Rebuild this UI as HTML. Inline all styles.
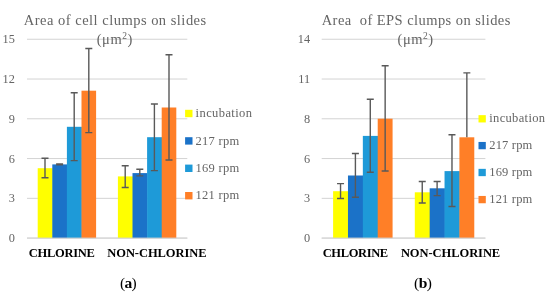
<!DOCTYPE html>
<html><head><meta charset="utf-8"><title>Area of clumps on slides</title>
<style>
html,body{margin:0;padding:0;background:#fff;}
svg{display:block;font-family:"Liberation Serif","DejaVu Serif",serif;}
</style></head><body>
<svg width="550" height="297" viewBox="0 0 550 297">
<rect width="550" height="297" fill="#fff"/>
<line x1="27" x2="187.3" y1="39.25" y2="39.25" stroke="#d3d3d3" stroke-width="1"/>
<text x="14.9" y="43.25" font-size="12.3" fill="#656565" text-anchor="end">15</text>
<line x1="27" x2="187.3" y1="79.02" y2="79.02" stroke="#d3d3d3" stroke-width="1"/>
<text x="14.9" y="83.02" font-size="12.3" fill="#656565" text-anchor="end">12</text>
<line x1="27" x2="187.3" y1="118.79" y2="118.79" stroke="#d3d3d3" stroke-width="1"/>
<text x="14.9" y="122.79" font-size="12.3" fill="#656565" text-anchor="end">9</text>
<line x1="27" x2="187.3" y1="158.56" y2="158.56" stroke="#d3d3d3" stroke-width="1"/>
<text x="14.9" y="162.56" font-size="12.3" fill="#656565" text-anchor="end">6</text>
<line x1="27" x2="187.3" y1="198.33" y2="198.33" stroke="#d3d3d3" stroke-width="1"/>
<text x="14.9" y="202.33" font-size="12.3" fill="#656565" text-anchor="end">3</text>
<line x1="27" x2="187.3" y1="238.10" y2="238.10" stroke="#d3d3d3" stroke-width="1"/>
<text x="14.9" y="242.1" font-size="12.3" fill="#656565" text-anchor="end">0</text>
<rect x="37.70" y="168.20" width="15.00" height="69.90" fill="#ffff00"/>
<rect x="52.30" y="164.40" width="15.00" height="73.70" fill="#1b72c8"/>
<rect x="66.90" y="126.80" width="15.00" height="111.30" fill="#1e9ad8"/>
<rect x="81.50" y="90.70" width="14.60" height="147.40" fill="#ff7f27"/>
<rect x="117.90" y="176.40" width="15.00" height="61.70" fill="#ffff00"/>
<rect x="132.50" y="173.10" width="15.00" height="65.00" fill="#1b72c8"/>
<rect x="147.10" y="137.20" width="15.00" height="100.90" fill="#1e9ad8"/>
<rect x="161.70" y="107.50" width="14.60" height="130.60" fill="#ff7f27"/>
<line x1="27" x2="187.3" y1="238.10" y2="238.10" stroke="#d3d3d3" stroke-width="1"/>
<path d="M45.00 158.30V177.80M41.50 158.30H48.50M41.50 177.80H48.50" stroke="#595959" stroke-width="1.4" fill="none"/>
<path d="M59.60 163.90V164.90M56.10 163.90H63.10M56.10 164.90H63.10" stroke="#595959" stroke-width="1.4" fill="none"/>
<path d="M74.20 92.70V160.60M70.70 92.70H77.70M70.70 160.60H77.70" stroke="#595959" stroke-width="1.4" fill="none"/>
<path d="M88.80 48.50V132.60M85.30 48.50H92.30M85.30 132.60H92.30" stroke="#595959" stroke-width="1.4" fill="none"/>
<path d="M125.20 165.80V187.50M121.70 165.80H128.70M121.70 187.50H128.70" stroke="#595959" stroke-width="1.4" fill="none"/>
<path d="M139.80 169.30V175.90M136.30 169.30H143.30M136.30 175.90H143.30" stroke="#595959" stroke-width="1.4" fill="none"/>
<path d="M154.40 104.00V170.60M150.90 104.00H157.90M150.90 170.60H157.90" stroke="#595959" stroke-width="1.4" fill="none"/>
<path d="M169.00 54.70V160.00M165.50 54.70H172.50M165.50 160.00H172.50" stroke="#595959" stroke-width="1.4" fill="none"/>
<text x="23.8" y="25.0" font-size="14.5" fill="#656565" textLength="182.4" lengthAdjust="spacing">Area of cell clumps on slides</text>
<text x="96.7" y="43.7" font-size="14.5" fill="#656565" textLength="35.6" lengthAdjust="spacing">(μm<tspan font-size="9.5" dy="-5">2</tspan><tspan dy="5">)</tspan></text>
<rect x="185.1" y="109.80" width="7.4" height="7.4" fill="#ffff00"/>
<text x="195.6" y="117.1" font-size="12.5" fill="#656565" textLength="56.4" lengthAdjust="spacing">incubation</text>
<rect x="185.1" y="137.20" width="7.4" height="7.4" fill="#1b72c8"/>
<text x="195.6" y="144.5" font-size="12.5" fill="#656565" textLength="43.6" lengthAdjust="spacing">217 rpm</text>
<rect x="185.1" y="164.60" width="7.4" height="7.4" fill="#1e9ad8"/>
<text x="195.6" y="171.9" font-size="12.5" fill="#656565" textLength="43.6" lengthAdjust="spacing">169 rpm</text>
<rect x="185.1" y="192.00" width="7.4" height="7.4" fill="#ff7f27"/>
<text x="195.6" y="199.3" font-size="12.5" fill="#656565" textLength="43.6" lengthAdjust="spacing">121 rpm</text>
<text x="28.7" y="256.8" font-size="12.5" fill="#000" textLength="66.2" lengthAdjust="spacing" font-weight="bold">CHLORINE</text>
<text x="107.3" y="256.8" font-size="12.5" fill="#000" textLength="99.2" lengthAdjust="spacing" font-weight="bold">NON-CHLORINE</text>
<text x="119.9" y="287.7" font-size="15.5" fill="#000" textLength="16.8" lengthAdjust="spacing">(<tspan font-weight="bold">a</tspan>)</text>
<line x1="321.7" x2="485.4" y1="39.25" y2="39.25" stroke="#d3d3d3" stroke-width="1"/>
<text x="310.1" y="43.25" font-size="12.3" fill="#656565" text-anchor="end">14</text>
<line x1="321.7" x2="485.4" y1="79.02" y2="79.02" stroke="#d3d3d3" stroke-width="1"/>
<text x="310.1" y="83.02" font-size="12.3" fill="#656565" text-anchor="end">11</text>
<line x1="321.7" x2="485.4" y1="118.79" y2="118.79" stroke="#d3d3d3" stroke-width="1"/>
<text x="310.1" y="122.79" font-size="12.3" fill="#656565" text-anchor="end">8</text>
<line x1="321.7" x2="485.4" y1="158.56" y2="158.56" stroke="#d3d3d3" stroke-width="1"/>
<text x="310.1" y="162.56" font-size="12.3" fill="#656565" text-anchor="end">6</text>
<line x1="321.7" x2="485.4" y1="198.33" y2="198.33" stroke="#d3d3d3" stroke-width="1"/>
<text x="310.1" y="202.33" font-size="12.3" fill="#656565" text-anchor="end">3</text>
<line x1="321.7" x2="485.4" y1="238.10" y2="238.10" stroke="#d3d3d3" stroke-width="1"/>
<text x="310.1" y="242.1" font-size="12.3" fill="#656565" text-anchor="end">0</text>
<rect x="333.10" y="191.20" width="15.27" height="46.90" fill="#ffff00"/>
<rect x="347.97" y="175.50" width="15.27" height="62.60" fill="#1b72c8"/>
<rect x="362.84" y="135.90" width="15.27" height="102.20" fill="#1e9ad8"/>
<rect x="377.71" y="118.70" width="14.87" height="119.40" fill="#ff7f27"/>
<rect x="414.80" y="192.30" width="15.27" height="45.80" fill="#ffff00"/>
<rect x="429.67" y="188.30" width="15.27" height="49.80" fill="#1b72c8"/>
<rect x="444.54" y="171.10" width="15.27" height="67.00" fill="#1e9ad8"/>
<rect x="459.41" y="137.30" width="14.87" height="100.80" fill="#ff7f27"/>
<line x1="321.7" x2="485.4" y1="238.10" y2="238.10" stroke="#d3d3d3" stroke-width="1"/>
<path d="M340.54 183.60V198.50M337.04 183.60H344.04M337.04 198.50H344.04" stroke="#595959" stroke-width="1.4" fill="none"/>
<path d="M355.41 153.50V197.30M351.91 153.50H358.91M351.91 197.30H358.91" stroke="#595959" stroke-width="1.4" fill="none"/>
<path d="M370.28 99.30V172.20M366.78 99.30H373.78M366.78 172.20H373.78" stroke="#595959" stroke-width="1.4" fill="none"/>
<path d="M385.15 65.80V171.00M381.65 65.80H388.65M381.65 171.00H388.65" stroke="#595959" stroke-width="1.4" fill="none"/>
<path d="M422.24 181.50V203.00M418.74 181.50H425.74M418.74 203.00H425.74" stroke="#595959" stroke-width="1.4" fill="none"/>
<path d="M437.11 181.50V195.60M433.61 181.50H440.61M433.61 195.60H440.61" stroke="#595959" stroke-width="1.4" fill="none"/>
<path d="M451.98 134.70V206.50M448.48 134.70H455.48M448.48 206.50H455.48" stroke="#595959" stroke-width="1.4" fill="none"/>
<path d="M466.85 72.90V137.30M463.35 72.90H470.35" stroke="#595959" stroke-width="1.4" fill="none"/>
<text x="321.7" y="25.0" font-size="14.5" fill="#656565" textLength="188.7" lengthAdjust="spacing" xml:space="preserve" style="white-space:pre">Area  of EPS clumps on slides</text>
<text x="397.6" y="43.7" font-size="14.5" fill="#656565" textLength="35.6" lengthAdjust="spacing">(μm<tspan font-size="9.5" dy="-5">2</tspan><tspan dy="5">)</tspan></text>
<rect x="478.5" y="115.15" width="7.3" height="7.3" fill="#ffff00"/>
<text x="489.3" y="122.4" font-size="12.5" fill="#656565" textLength="55.7" lengthAdjust="spacing">incubation</text>
<rect x="478.5" y="141.95" width="7.3" height="7.3" fill="#1b72c8"/>
<text x="489.3" y="149.2" font-size="12.5" fill="#656565" textLength="43" lengthAdjust="spacing">217 rpm</text>
<rect x="478.5" y="168.85" width="7.3" height="7.3" fill="#1e9ad8"/>
<text x="489.3" y="176.1" font-size="12.5" fill="#656565" textLength="43" lengthAdjust="spacing">169 rpm</text>
<rect x="478.5" y="195.95" width="7.3" height="7.3" fill="#ff7f27"/>
<text x="489.3" y="203.2" font-size="12.5" fill="#656565" textLength="43" lengthAdjust="spacing">121 rpm</text>
<text x="322.7" y="256.8" font-size="12.5" fill="#000" textLength="65.5" lengthAdjust="spacing" font-weight="bold">CHLORINE</text>
<text x="400.9" y="256.8" font-size="12.5" fill="#000" textLength="99.3" lengthAdjust="spacing" font-weight="bold">NON-CHLORINE</text>
<text x="414.0" y="287.7" font-size="15.5" fill="#000" textLength="18.0" lengthAdjust="spacing">(<tspan font-weight="bold">b</tspan>)</text>
</svg>
</body></html>
